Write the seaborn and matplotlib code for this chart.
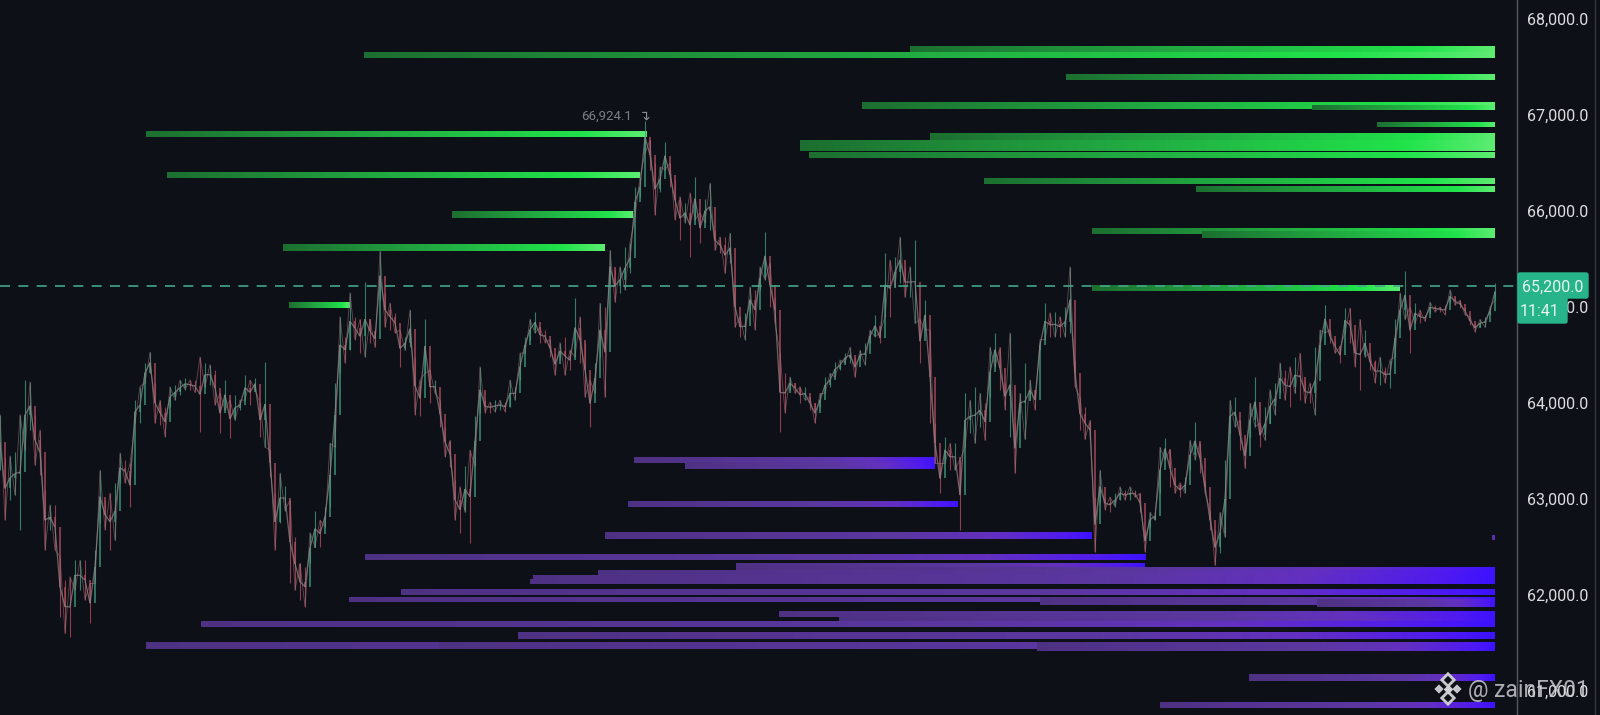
import numpy as np
import pandas as pd
import matplotlib
matplotlib.use("Agg")
import matplotlib.pyplot as plt
import seaborn as sns
from matplotlib.colors import LinearSegmentedColormap
from matplotlib.patches import FancyBboxPatch
from matplotlib.ticker import StrMethodFormatter

highs = [63880,63440,63450,63490,63880,64240,64220,63880,63720,63090,62940,62940,62400,62160,62190,62360,62360,62360,62120,62470,
63300,62990,63060,63170,63480,63410,63370,64030,64170,64420,64530,64210,64030,63960,64170,64190,64240,64260,64240,64240,
64480,64420,64400,64340,64100,64240,64030,64080,64030,64290,64240,64260,64000,64430,63510,63060,63270,63140,62990,62600,
62330,62290,62650,62880,62780,62920,63580,64210,64900,64690,65150,64900,64870,65260,64870,64760,65580,65150,65040,64940,
64760,64690,64970,64480,64240,64870,64340,64240,64030,63750,63610,63200,63130,63340,63510,63860,64380,64030,64010,64030,
64030,64010,64240,64170,64520,64690,64870,64950,64790,64760,64660,64520,64630,64690,64550,65090,64900,64630,64240,64420,
65040,65000,65590,65390,65420,65630,65670,66250,66350,66940,66740,66500,66460,66720,66500,66320,66150,66080,66190,66350,
65980,66120,66290,65800,65730,65730,65770,65210,64900,64940,65210,65180,65420,65780,65460,65100,64520,64310,64270,64210,
64170,64170,64060,64000,64100,64270,64310,64430,64450,64520,64580,64480,64550,64630,64760,64920,64730,65560,65490,65520,
65730,65420,65420,65700,64870,65070,64760,63790,63370,63650,63580,63580,63410,64100,64030,64170,64100,64000,64580,64730,
64580,64210,64730,63790,64100,64420,64240,64140,64660,65040,64940,64950,64900,65000,65420,64450,64060,63960,63820,63020,
63300,63020,63020,63060,63130,63090,63130,63090,63060,62680,62860,62860,63540,63640,63510,63230,63170,63230,63610,63800,
63580,63200,62890,62680,62860,63410,64030,64060,63820,63580,64000,64270,63790,63960,64140,64210,64420,64340,64380,64480,
64520,64240,64210,64580,64760,65020,64760,64660,64580,64990,64990,64660,64870,64760,64520,64450,64480,64380,64450,64870,
65150,65370,65000,65040,64970,64920,65050,65020,65000,65020,65180,65100,65070,65000,64900,64830,64870,64900,65000,65250]

lows = [63300,62780,62990,63040,62680,63510,63720,63350,63250,62470,62680,62470,61770,61600,61560,62050,62050,61950,61710,62120,
62750,62680,62470,62570,63170,63170,62920,63790,63790,64210,64310,63790,63770,63650,63960,64030,64080,64140,64140,64110,
63700,64170,64190,63980,63690,63930,63640,63820,63930,64030,63980,64140,63650,63540,63230,62470,62750,62880,62120,62050,
61950,61880,62330,62500,62500,62710,62920,63540,64310,64420,64550,64660,64520,64480,64630,64580,65070,64790,64760,64730,
64380,64550,64580,63880,63860,64310,64000,64100,63750,63440,63330,62780,62650,62860,62540,63340,63900,63900,63900,63910,
63930,63910,63960,64030,64240,64520,64660,64730,64630,64630,64480,64290,64450,64290,64340,64480,64420,64060,63750,64100,
64480,64060,65250,65050,65150,65180,65350,65940,66150,66600,66430,65960,66200,66430,66250,65910,65700,65880,65520,65910,
65670,65880,65800,65590,65560,65350,65460,64790,64690,64660,64940,64760,65180,65280,65000,64830,63700,63900,64140,64100,
64000,64030,63930,63790,63960,64100,64170,64270,64340,64420,64420,64270,64450,64400,64630,64690,64630,64900,64900,65210,
65250,65100,65100,64830,64420,64760,63790,63370,63060,63370,63300,63300,62680,63540,63690,63580,63750,63610,64060,64380,
64140,63930,63650,63270,63900,63620,64030,63930,64550,64660,64690,64690,64690,64690,64730,64170,63720,63620,63620,62450,
62960,62890,62860,62920,62990,62990,62990,63020,62860,62450,62710,62780,63060,63410,63130,63060,63020,63060,63300,63410,
63270,63060,62680,62310,62440,62600,63690,63750,63510,63320,63650,63750,63540,63610,63790,63880,64100,64030,63960,64100,
64030,64000,64000,63880,64450,64730,64630,64520,64420,64730,64630,64380,64140,64480,64340,64210,64190,64210,64160,64480,
64790,64870,64520,64830,64830,64850,64940,64950,64950,64920,65040,65020,64990,64920,64810,64740,64790,64790,64920,65070]

resistance_start = [910,364,1066,862,1312,1377,930,800,809,984,1196,1092,1202,1092,146,167,452,283,289]
resistance_end = [1495,1495,1495,1495,1495,1495,1495,1495,1495,1495,1495,1495,1495,1400,647,640,633,605,350]
resistance_top = [67712,67649,67424,67125,67104,66924,66799,66740,66615,66344,66257,65816,65784,65222,66830,66403,65990,65649,65052]
resistance_bottom = [67649,67594,67365,67059,67052,66872,66705,66628,66555,66284,66201,65760,65719,65164,66771,66341,65927,65586,64990]

support_start = [634,685,628,605,365,736,746,598,533,530,401,349,1040,1317,779,839,201,518,146,439,1037,1249,1160,1492]
support_end = [935,935,958,1092,1146,1145,1495,1495,1495,1495,1495,1495,1495,1495,1495,1495,1495,1495,1495,1495,1495,1495,1495,1495]
support_top = [63437,63375,62979,62656,62427,62323,62281,62260,62208,62167,62052,61972,61972,61948,61823,61766,61722,61604,61500,61500,61500,61177,60885,62625]
support_bottom = [63375,63312,62917,62587,62365,62260,62208,62208,62160,62115,61996,61924,61896,61870,61766,61733,61667,61541,61437,61437,61416,61107,60823,62573]

price_ticks = [61000,62000,63000,64000,65000,66000,67000,68000]
last_price = 65215
last_label = "65,200.0"
countdown = "11:41"
peak_label = "66,924.1"
peak_price = 66990
watermark = "@ zainFX01"

BG = "#0d1017"
UP, DOWN = "#3d9a7c", "#b04a5c"

sns.set_theme(style="dark", rc={"axes.facecolor": BG, "figure.facecolor": BG, "axes.grid": False})
plt.rcParams["font.family"] = ["Roboto", "DejaVu Sans"]

df = pd.DataFrame({"bar": np.arange(len(highs)) * 5, "high": highs, "low": lows})
df["mid"] = (df.high + df.low) / 2
df["open"] = df.mid.shift(1).fillna(df.mid)
df["swing"] = np.where(df.index % 2 == 0, df.high, df.low)

fig = plt.figure(figsize=(16, 7.15), dpi=100)
ax = fig.add_axes([0, 0, 1517 / 1600, 1])

green_map = LinearSegmentedColormap.from_list("g", [(0, "#1c6f30"), (.25, "#1f8f3a"), (.55, "#22b544"), (.87, "#20e34a"), (1, "#5cec72")])
purple_map = LinearSegmentedColormap.from_list("p", [(0, "#4f3184"), (.6, "#5b37a0"), (.8, "#6330c0"), (.95, "#4f1af0"), (1, "#3d12ff")])
ramp = np.linspace(0, 1, 256)[None, :]

def draw_levels(starts, ends, tops, bottoms, cmap):
    for s, e, t, b in zip(starts, ends, tops, bottoms):
        ax.imshow(ramp, cmap=cmap, extent=[s, e, b, t], aspect="auto", zorder=2, interpolation="bilinear")

draw_levels(resistance_start, resistance_end, resistance_top, resistance_bottom, green_map)
draw_levels(support_start, support_end, support_top, support_bottom, purple_map)

colours = np.where(df.mid >= df.open, UP, DOWN)
ax.vlines(df.bar, df.low, df.high, colors=colours, lw=.8, alpha=.8, zorder=3)
ax.vlines(df.bar, df.open, df.mid, colors=colours, lw=1.2, alpha=.85, zorder=3)
sns.lineplot(data=df, x="bar", y="swing", color="#a07078", lw=.6, alpha=.6, ax=ax, zorder=3, errorbar=None, legend=False)
sns.lineplot(data=df, x="bar", y="mid", color="#8f8a8c", lw=.9, alpha=.7, ax=ax, zorder=4, errorbar=None, legend=False)

ax.axhline(last_price, color="#43a688", lw=1.2, dashes=(6, 5), zorder=5)
ax.text(632, peak_price, peak_label, color="#7c7f85", fontsize=9.5, ha="right", va="center", zorder=6)
ax.text(645, peak_price, "↴", color="#8b8e94", fontsize=10, ha="center", va="center", zorder=6,
        family=["DejaVu Sans"])

ax.set_xlim(0, 1517)
ax.set_ylim(60750, 68198)
ax.set_xticks([])
ax.set_xlabel("")
ax.set_ylabel("")
ax.yaxis.tick_right()
ax.set_yticks(price_ticks)
ax.yaxis.set_major_formatter(StrMethodFormatter("{x:,.1f}"))
ax.tick_params(axis="y", length=0, pad=7, labelsize=11.5, labelcolor="#dcdde0")
for name, spine in ax.spines.items():
    spine.set_visible(name == "right")
ax.spines["right"].set_color("#55585e")
ax.spines["right"].set_linewidth(1)

# overlay in pixel space for chrome: price tag, watermark, outer rule
ov = fig.add_axes([0, 0, 1, 1], facecolor="none", zorder=5)
ov.set_xlim(0, 1600)
ov.set_ylim(715, 0)
ov.axis("off")
ov.plot([1595, 1595], [0, 715], color="#33363c", lw=1)
TAG = "#28b48a"
ov.add_patch(FancyBboxPatch((1518, 273), 70, 25, boxstyle="round,pad=0,rounding_size=2", fc=TAG, ec=TAG, lw=1))
ov.add_patch(FancyBboxPatch((1518, 296), 49, 27, boxstyle="round,pad=0,rounding_size=2", fc=TAG, ec=TAG, lw=1))
ov.text(1552.5, 287, last_label, color="#e6f5ef", fontsize=11.5, ha="center", va="center")
ov.text(1540, 312, countdown, color="#e6f5ef", fontsize=11.5, ha="center", va="center")
ov.scatter([1448, 1448, 1439, 1457], [680, 698, 689, 689], marker="D", s=[70, 70, 22, 22],
           color="#d0d2d6", linewidths=0, alpha=.95)
ov.scatter([1448, 1448], [680, 698], marker="D", s=[18, 18], color=BG, linewidths=0)
ov.scatter([1448], [689], marker="D", s=[24], color="#d0d2d6", linewidths=0)
ov.text(1468, 690, watermark, color="#c9cbcf", fontsize=16.5, ha="left", va="center", alpha=.85)

fig.savefig("out.png", dpi=100, facecolor=BG)
